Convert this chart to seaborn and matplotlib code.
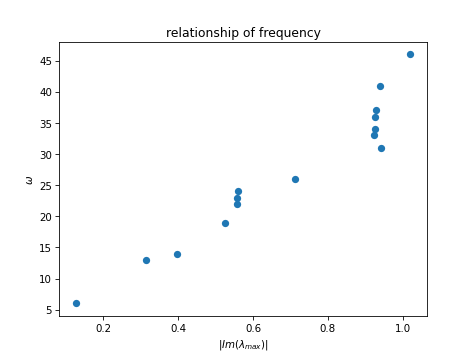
import matplotlib
matplotlib.use('Agg')
import matplotlib.pyplot as plt
import seaborn as sns
import pandas as pd

im_lambda = [0.127, 0.313, 0.398, 0.524, 0.556, 0.556, 0.561, 0.712,
             0.924, 0.927, 0.927, 0.930, 0.940, 0.942, 1.020]
omega = [6, 13, 14, 19, 22, 23, 24, 26, 33, 34, 36, 37, 41, 31, 46]

df = pd.DataFrame({'im': im_lambda, 'omega': omega})

fig, ax = plt.subplots(figsize=(6.4, 4.8))
sns.scatterplot(data=df, x='im', y='omega', ax=ax, s=50, linewidth=0, color='#1f77b4')
ax.set_title('relationship of frequency')
ax.set_xlabel(r'$|Im(\lambda_{max})|$')
ax.set_ylabel(r'$\omega$')

fig.savefig('out.png', dpi=74.1)
